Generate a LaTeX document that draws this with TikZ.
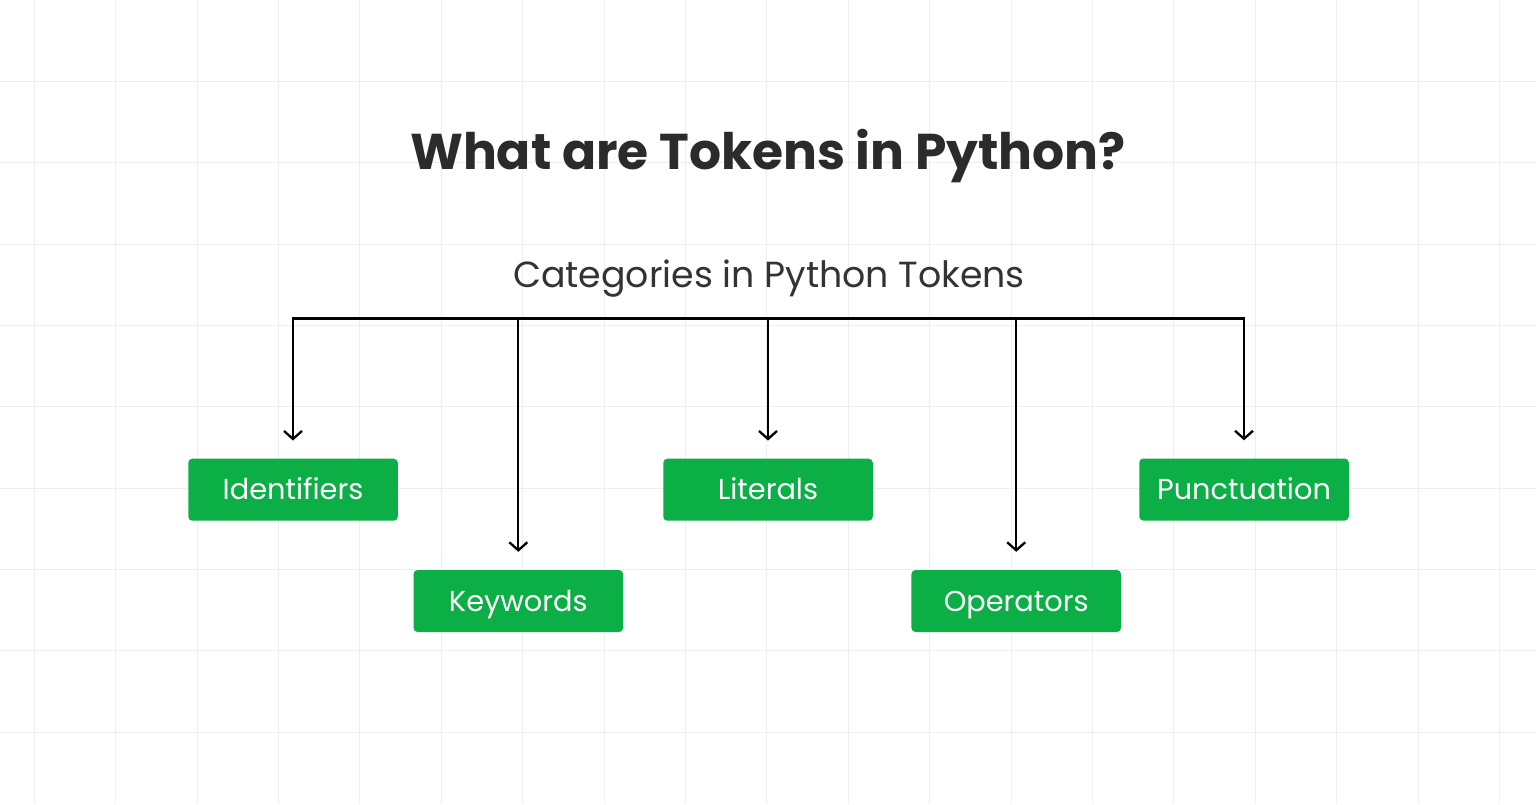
\documentclass[tikz,border=0pt]{standalone}
\usepackage{fontspec}
\setmainfont{Poppins}
\usetikzlibrary{arrows.meta}
\definecolor{gridc}{RGB}{238,238,238}
\definecolor{boxgreen}{RGB}{11,175,69}
\definecolor{titlec}{RGB}{43,43,43}
\definecolor{subc}{RGB}{51,51,51}
\tikzset{
  tokbox/.style={fill=boxgreen, rounded corners=4pt, minimum width=209.5pt, minimum height=62pt,
    inner sep=0pt, text=white, font=\fontsize{28.8}{28.8}\selectfont, text height=20pt, text depth=0pt},
  conn/.style={line width=2.3pt, black},
  arr/.style={conn, -{Straight Barb[length=8pt,width=18pt]}, shorten >=18pt},
}
\begin{document}
\begin{tikzpicture}[x=1pt,y=-1pt]
\useasboundingbox (0,0) rectangle (1536,804);
\fill[white] (0,0) rectangle (1536,804);
% grid
\foreach \i in {0,...,18} {\draw[gridc, line width=1pt] ({34.3+81.4*\i},0) -- ({34.3+81.4*\i},804);}
\foreach \j in {1,...,9} {\draw[gridc, line width=1pt] (0,{81.35*\j}) -- (1536,{81.35*\j});}
% titles
\node[anchor=base, text=titlec, font=\fontsize{50.3}{50.3}\selectfont\bfseries, inner sep=0pt] (title) at (768,169.5) {What are Tokens in Python?};
\node[anchor=base, text=subc, font=\fontsize{36.3}{36.3}\selectfont, inner sep=0pt] (sub) at (769,287) {Categories in Python Tokens};
% boxes
\node[tokbox] (id) at (293,489.7) {Identifiers};
\node[tokbox] (kw) at (518.3,601) {Keywords};
\node[tokbox] (li) at (768,489.7) {Literals};
\node[tokbox] (op) at (1016.2,601) {Operators};
\node[tokbox] (pu) at (1244,489.5) {Punctuation};
% connectors
\coordinate (bus) at (768,318.5);
\draw[arr] (bus) -| (id.north);
\draw[arr] (bus) -| (pu.north);
\draw[arr] (kw.north |- bus) -- (kw.north);
\draw[arr] (li.north |- bus) -- (li.north);
\draw[arr] (op.north |- bus) -- (op.north);
\end{tikzpicture}
\end{document}
